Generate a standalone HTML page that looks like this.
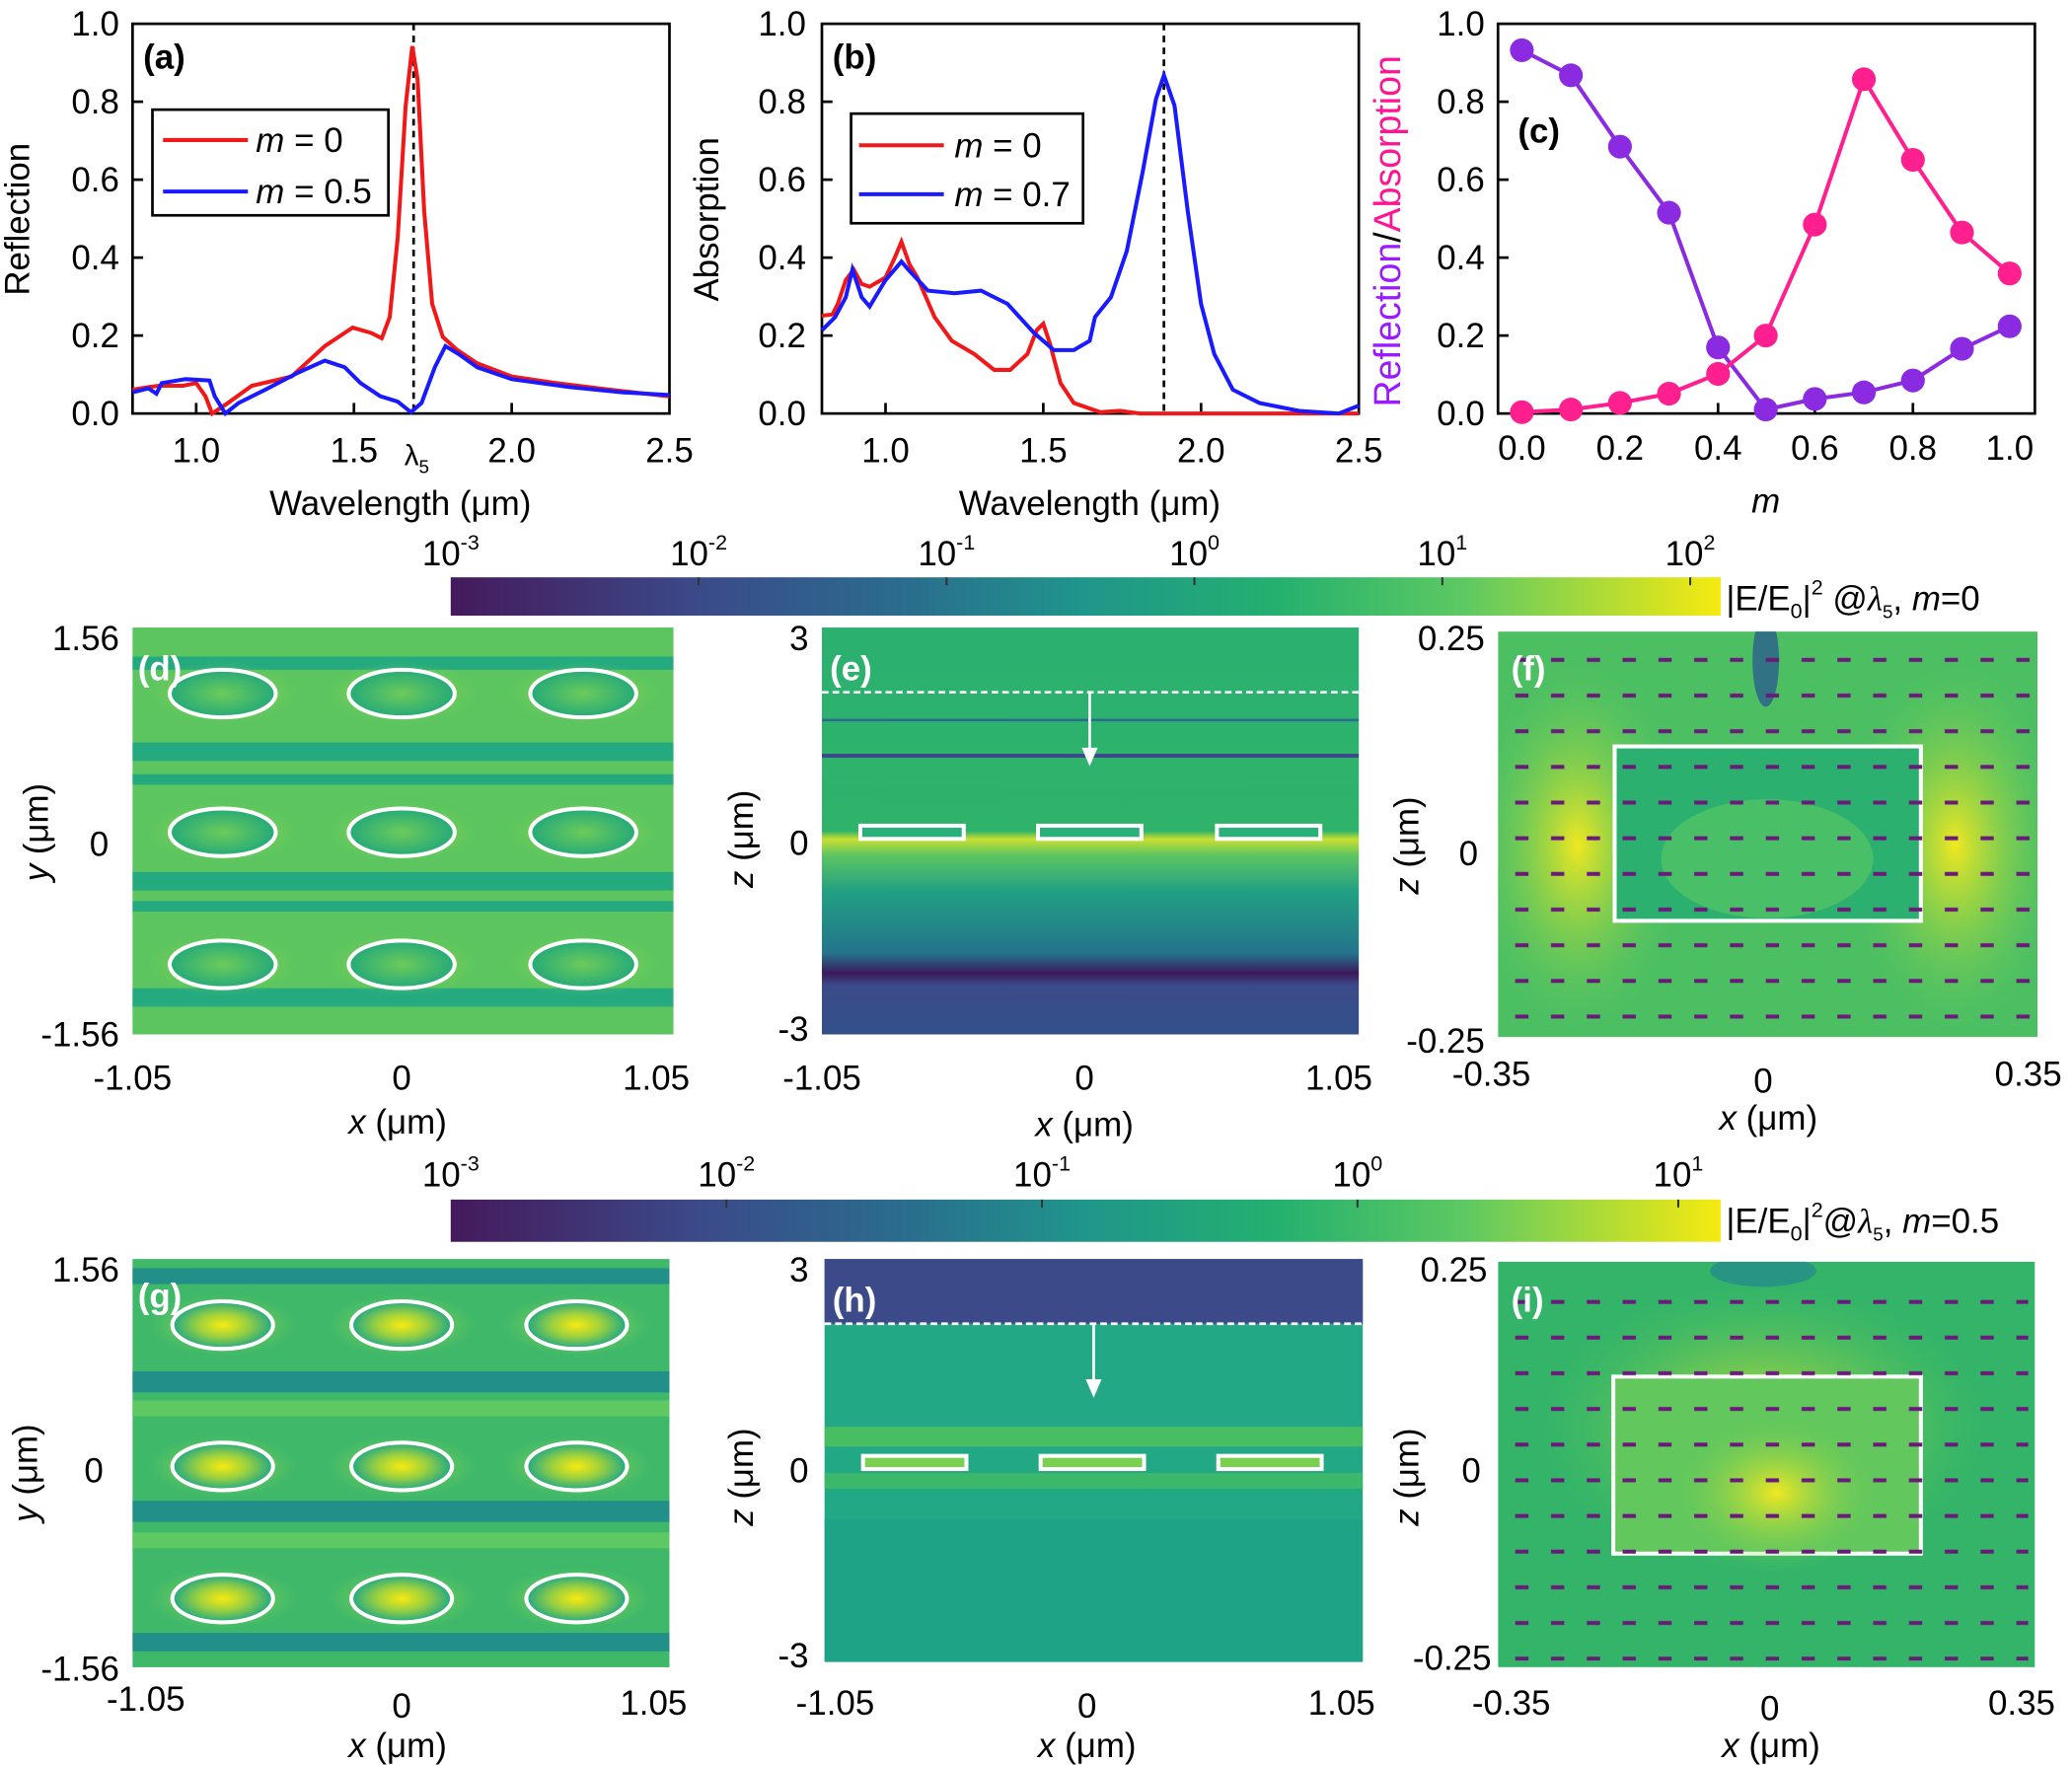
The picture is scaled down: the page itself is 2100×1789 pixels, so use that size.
<!DOCTYPE html>
<html><head><meta charset="utf-8"><style>html,body{margin:0;padding:0;background:#fff}svg{display:block}text{font-family:"Liberation Sans",sans-serif}</style></head><body>
<svg width="2100" height="1789" viewBox="0 0 1563 1336" preserveAspectRatio="none" xmlns="http://www.w3.org/2000/svg">
<defs>
<linearGradient id="vir" x1="0" x2="1" y1="0" y2="0">
<stop offset="0" stop-color="#451a5c"/><stop offset="0.2" stop-color="#3b4b8a"/><stop offset="0.35" stop-color="#2b6b8e"/><stop offset="0.5" stop-color="#1f968b"/><stop offset="0.65" stop-color="#24b06f"/><stop offset="0.8" stop-color="#5ec962"/><stop offset="1" stop-color="#f5ea10"/></linearGradient>
<pattern id="arr" width="27" height="27" patternUnits="userSpaceOnUse"><rect x="9" y="12" width="10" height="3" fill="#6a1b7a"/></pattern>
<linearGradient id="eg" x1="0" y1="0" x2="0" y2="1">
<stop offset="0" stop-color="#2bb070"/><stop offset="0.5" stop-color="#2fb36a"/><stop offset="0.52" stop-color="#c8df30"/><stop offset="0.56" stop-color="#5cc461"/><stop offset="0.65" stop-color="#22a083"/><stop offset="0.8" stop-color="#24748c"/><stop offset="0.85" stop-color="#3b1a5c"/><stop offset="0.88" stop-color="#3b4b8a"/><stop offset="1" stop-color="#33508a"/></linearGradient>
<radialGradient id="yl" cx="0.5" cy="0.5" r="0.5"><stop offset="0" stop-color="#f0e820"/><stop offset="1" stop-color="#5ec962" stop-opacity="0"/></radialGradient>
<radialGradient id="yc" cx="0.5" cy="0.5" r="0.5"><stop offset="0" stop-color="#f7ea10"/><stop offset="0.5" stop-color="#9ad040"/><stop offset="1" stop-color="#20a884"/></radialGradient>
<radialGradient id="gi" cx="0.5" cy="0.5" r="0.5"><stop offset="0" stop-color="#6ccb5a"/><stop offset="1" stop-color="#25aa78"/></radialGradient>
<clipPath id="cf"><rect x="1130" y="478" width="407" height="307"/></clipPath>
<clipPath id="ci"><rect x="1130" y="955" width="405" height="307"/></clipPath>
</defs>
<g font-size="26" fill="#000">
<!-- Panel a -->
<rect x="100" y="18" width="405" height="295" fill="none" stroke="#000" stroke-width="2"/>
<g stroke="#000" stroke-width="2">
<line x1="148" y1="313" x2="148" y2="305"/><line x1="267" y1="313" x2="267" y2="305"/><line x1="386" y1="313" x2="386" y2="305"/>
<line x1="100" y1="254" x2="108" y2="254"/><line x1="100" y1="195" x2="108" y2="195"/><line x1="100" y1="136" x2="108" y2="136"/><line x1="100" y1="77" x2="108" y2="77"/>
</g>
<g text-anchor="end"><text x="90" y="322">0.0</text><text x="90" y="263">0.2</text><text x="90" y="204">0.4</text><text x="90" y="145">0.6</text><text x="90" y="86">0.8</text><text x="90" y="27">1.0</text></g>
<g text-anchor="middle"><text x="148" y="350">1.0</text><text x="267" y="350">1.5</text><text x="386" y="350">2.0</text><text x="505" y="350">2.5</text><text x="302" y="390">Wavelength (μm)</text></g>
<text x="305" y="352" font-size="22" font-family="Liberation Serif">λ<tspan font-size="14" dy="6">5</tspan></text>
<text transform="translate(22,166) rotate(-90)" text-anchor="middle">Reflection</text>
<line x1="312" y1="18" x2="312" y2="313" stroke="#000" stroke-width="2" stroke-dasharray="5,4"/>
<polyline fill="none" stroke="#f01818" stroke-width="3" points="100,295 112,293 120,292 138,292 148,290 155,300 160,313 172,305 190,292 220,285 245,262 266,248 280,252 288,256 294,240 300,180 306,80 311,35 315,60 320,160 326,230 334,255 345,265 360,275 386,285 420,290 460,295 505,300"/>
<polyline fill="none" stroke="#1a1aff" stroke-width="3" points="100,297 112,294 118,298 122,290 140,287 158,288 162,300 170,313 180,305 200,295 225,282 245,273 260,278 272,290 287,300 300,304 310,312 318,305 328,278 336,262 346,268 360,278 386,287 430,293 470,297 505,299"/>
<text x="108" y="52" font-weight="bold">(a)</text>
<rect x="115" y="83" width="178" height="80" fill="#fff" stroke="#000" stroke-width="2"/>
<line x1="123" y1="106" x2="187" y2="106" stroke="#f01818" stroke-width="3"/><line x1="123" y1="145" x2="187" y2="145" stroke="#1a1aff" stroke-width="3"/>
<text x="193" y="115"><tspan font-style="italic">m</tspan> = 0</text><text x="193" y="154"><tspan font-style="italic">m</tspan> = 0.5</text>

<!-- Panel b -->
<rect x="620" y="18" width="405" height="295" fill="none" stroke="#000" stroke-width="2"/>
<g stroke="#000" stroke-width="2">
<line x1="668" y1="313" x2="668" y2="305"/><line x1="787" y1="313" x2="787" y2="305"/><line x1="906" y1="313" x2="906" y2="305"/>
<line x1="620" y1="254" x2="628" y2="254"/><line x1="620" y1="195" x2="628" y2="195"/><line x1="620" y1="136" x2="628" y2="136"/><line x1="620" y1="77" x2="628" y2="77"/>
</g>
<g text-anchor="end"><text x="608" y="322">0.0</text><text x="608" y="263">0.2</text><text x="608" y="204">0.4</text><text x="608" y="145">0.6</text><text x="608" y="86">0.8</text><text x="608" y="27">1.0</text></g>
<g text-anchor="middle"><text x="668" y="350">1.0</text><text x="787" y="350">1.5</text><text x="906" y="350">2.0</text><text x="1025" y="350">2.5</text><text x="822" y="390">Wavelength (μm)</text></g>
<text transform="translate(542,166) rotate(-90)" text-anchor="middle">Absorption</text>
<line x1="878" y1="18" x2="878" y2="313" stroke="#000" stroke-width="2" stroke-dasharray="5,4"/>
<polyline fill="none" stroke="#f01818" stroke-width="3" points="620,239 628,238 632,230 638,212 644,204 650,215 656,217 668,210 675,195 680,183 686,200 692,210 705,240 718,258 735,268 750,280 762,280 775,268 782,250 787,245 792,260 800,290 810,305 830,312 845,311 860,313 1025,313"/>
<polyline fill="none" stroke="#1a1aff" stroke-width="3" points="620,250 630,240 638,225 643,204 650,225 656,232 668,212 680,198 686,205 700,220 720,222 740,220 760,230 780,252 795,265 810,265 822,258 826,240 838,225 850,190 862,130 872,75 878,57 886,80 896,160 906,230 916,268 930,295 950,305 980,311 1010,313 1025,307"/>
<text x="628" y="52" font-weight="bold">(b)</text>
<rect x="642" y="86" width="175" height="83" fill="#fff" stroke="#000" stroke-width="2"/>
<line x1="648" y1="110" x2="712" y2="110" stroke="#f01818" stroke-width="3"/><line x1="648" y1="147" x2="712" y2="147" stroke="#1a1aff" stroke-width="3"/>
<text x="720" y="119"><tspan font-style="italic">m</tspan> = 0</text><text x="720" y="156"><tspan font-style="italic">m</tspan> = 0.7</text>

<!-- Panel c -->
<rect x="1130" y="18" width="405" height="295" fill="none" stroke="#000" stroke-width="2"/>
<g stroke="#000" stroke-width="2">
<line x1="1222" y1="313" x2="1222" y2="305"/><line x1="1296" y1="313" x2="1296" y2="305"/><line x1="1369" y1="313" x2="1369" y2="305"/><line x1="1443" y1="313" x2="1443" y2="305"/>
<line x1="1130" y1="254" x2="1138" y2="254"/><line x1="1130" y1="195" x2="1138" y2="195"/><line x1="1130" y1="136" x2="1138" y2="136"/><line x1="1130" y1="77" x2="1138" y2="77"/>
</g>
<g text-anchor="end"><text x="1120" y="322">0.0</text><text x="1120" y="263">0.2</text><text x="1120" y="204">0.4</text><text x="1120" y="145">0.6</text><text x="1120" y="86">0.8</text><text x="1120" y="27">1.0</text></g>
<g text-anchor="middle"><text x="1148" y="348">0.0</text><text x="1222" y="348">0.2</text><text x="1296" y="348">0.4</text><text x="1369" y="348">0.6</text><text x="1443" y="348">0.8</text><text x="1516" y="348">1.0</text><text x="1332" y="388" font-style="italic">m</text></g>
<text transform="translate(1056,175) rotate(-90)" text-anchor="middle" font-size="28"><tspan fill="#9a1bff">Reflection</tspan><tspan fill="#000">/</tspan><tspan fill="#ff1493">Absorption</tspan></text>
<text x="1145" y="108" font-weight="bold">(c)</text>
<polyline fill="none" stroke="#8a2be2" stroke-width="3" points="1148,38 1185,57 1222,111 1259,161 1296,263 1332,310 1369,302 1406,297 1443,288 1480,264 1516,247"/>
<polyline fill="none" stroke="#ff1f8f" stroke-width="3" points="1148,312 1185,310 1222,305 1259,298 1296,283 1332,254 1369,170 1406,60 1443,121 1480,176 1516,207"/>
<g fill="#8a2be2"><circle cx="1148" cy="38" r="9"/><circle cx="1185" cy="57" r="9"/><circle cx="1222" cy="111" r="9"/><circle cx="1259" cy="161" r="9"/><circle cx="1296" cy="263" r="9"/><circle cx="1332" cy="310" r="9"/><circle cx="1369" cy="302" r="9"/><circle cx="1406" cy="297" r="9"/><circle cx="1443" cy="288" r="9"/><circle cx="1480" cy="264" r="9"/><circle cx="1516" cy="247" r="9"/></g>
<g fill="#ff1f8f"><circle cx="1148" cy="312" r="9"/><circle cx="1185" cy="310" r="9"/><circle cx="1222" cy="305" r="9"/><circle cx="1259" cy="298" r="9"/><circle cx="1296" cy="283" r="9"/><circle cx="1332" cy="254" r="9"/><circle cx="1369" cy="170" r="9"/><circle cx="1406" cy="60" r="9"/><circle cx="1443" cy="121" r="9"/><circle cx="1480" cy="176" r="9"/><circle cx="1516" cy="207" r="9"/></g>

<!-- Colorbar 1 -->
<rect x="340" y="437" width="958" height="29" fill="url(#vir)"/>
<g stroke="#333" stroke-width="1.5"><line x1="527" y1="437" x2="527" y2="443"/><line x1="714" y1="437" x2="714" y2="443"/><line x1="901" y1="437" x2="901" y2="443"/><line x1="1088" y1="437" x2="1088" y2="443"/><line x1="1275" y1="437" x2="1275" y2="443"/></g>
<g text-anchor="middle"><text x="340" y="428">10<tspan font-size="16" dy="-12">-3</tspan></text><text x="527" y="428">10<tspan font-size="16" dy="-12">-2</tspan></text><text x="714" y="428">10<tspan font-size="16" dy="-12">-1</tspan></text><text x="901" y="428">10<tspan font-size="16" dy="-12">0</tspan></text><text x="1088" y="428">10<tspan font-size="16" dy="-12">1</tspan></text><text x="1275" y="428">10<tspan font-size="16" dy="-12">2</tspan></text></g>
<text x="1302" y="462">|E/E<tspan font-size="16" dy="6">0</tspan><tspan dy="-6">|</tspan><tspan font-size="16" dy="-12">2</tspan><tspan dy="12"> @</tspan><tspan font-family="Liberation Serif" font-style="italic">λ</tspan><tspan font-size="14" dy="6">5</tspan><tspan dy="-6">, </tspan><tspan font-style="italic">m</tspan>=0</text>

<!-- Panel d -->
<rect x="100" y="475" width="408" height="308" fill="#5cc55f"/>
<g fill="#20a884" opacity="0.9"><rect x="100" y="497" width="408" height="10"/><rect x="100" y="562" width="408" height="14"/><rect x="100" y="586" width="408" height="8"/><rect x="100" y="660" width="408" height="14"/><rect x="100" y="682" width="408" height="8"/><rect x="100" y="748" width="408" height="14"/></g>
<g fill="url(#yl)"><ellipse cx="168" cy="525" rx="60" ry="24"/><ellipse cx="303" cy="525" rx="60" ry="24"/><ellipse cx="440" cy="525" rx="60" ry="24"/><ellipse cx="168" cy="630" rx="60" ry="24"/><ellipse cx="303" cy="630" rx="60" ry="24"/><ellipse cx="440" cy="630" rx="60" ry="24"/><ellipse cx="168" cy="730" rx="60" ry="24"/><ellipse cx="303" cy="730" rx="60" ry="24"/><ellipse cx="440" cy="730" rx="60" ry="24"/></g>
<g fill="url(#gi)" stroke="#fff" stroke-width="3"><ellipse cx="168" cy="525" rx="40" ry="18"/><ellipse cx="303" cy="525" rx="40" ry="18"/><ellipse cx="440" cy="525" rx="40" ry="18"/><ellipse cx="168" cy="630" rx="40" ry="18"/><ellipse cx="303" cy="630" rx="40" ry="18"/><ellipse cx="440" cy="630" rx="40" ry="18"/><ellipse cx="168" cy="730" rx="40" ry="18"/><ellipse cx="303" cy="730" rx="40" ry="18"/><ellipse cx="440" cy="730" rx="40" ry="18"/></g>
<text x="104" y="515" fill="#fff" font-weight="bold">(d)</text>
<g text-anchor="end"><text x="90" y="492">1.56</text><text x="82" y="648">0</text><text x="90" y="792">-1.56</text></g>
<g text-anchor="middle"><text x="100" y="825">-1.05</text><text x="303" y="825">0</text><text x="495" y="825">1.05</text><text x="300" y="858"><tspan font-style="italic">x</tspan> (μm)</text></g>
<text transform="translate(36,630) rotate(-90)" text-anchor="middle"><tspan font-style="italic">y</tspan> (μm)</text>

<!-- Panel e -->
<rect x="620" y="475" width="405" height="308" fill="url(#eg)"/>
<line x1="620" y1="524" x2="1025" y2="524" stroke="#fff" stroke-width="2" stroke-dasharray="5,3"/>
<line x1="620" y1="545" x2="1025" y2="545" stroke="#2a6e8e" stroke-width="2"/>
<line x1="620" y1="572" x2="1025" y2="572" stroke="#3b4b8a" stroke-width="3"/>
<line x1="822" y1="524" x2="822" y2="575" stroke="#fff" stroke-width="2"/><polygon points="816,566 828,566 822,580" fill="#fff"/>
<g fill="#2ab07a" stroke="#fff" stroke-width="3"><rect x="649" y="625" width="78" height="10"/><rect x="783" y="625" width="78" height="10"/><rect x="918" y="625" width="78" height="10"/></g>
<text x="626" y="515" fill="#fff" font-weight="bold">(e)</text>
<g text-anchor="end"><text x="610" y="492">3</text><text x="610" y="647">0</text><text x="610" y="788">-3</text></g>
<g text-anchor="middle"><text x="620" y="825">-1.05</text><text x="818" y="825">0</text><text x="1010" y="825">1.05</text><text x="818" y="860"><tspan font-style="italic">x</tspan> (μm)</text></g>
<text transform="translate(568,635) rotate(-90)" text-anchor="middle"><tspan font-style="italic">z</tspan> (μm)</text>

<!-- Panel f -->
<g clip-path="url(#cf)">
<rect x="1130" y="478" width="407" height="307" fill="#4cbf62"/>
<ellipse cx="1190" cy="640" rx="80" ry="140" fill="url(#yl)"/><ellipse cx="1475" cy="640" rx="80" ry="140" fill="url(#yl)"/>
<ellipse cx="1332" cy="500" rx="10" ry="35" fill="#2b5f8e" opacity="0.8"/>
<rect x="1218" y="565" width="231" height="132" fill="#2bb070" stroke="#fff" stroke-width="3"/>
<ellipse cx="1333" cy="650" rx="80" ry="45" fill="#5ec962" opacity="0.6"/>
<rect x="1138" y="486" width="395" height="295" fill="url(#arr)"/>
</g>
<text x="1140" y="515" fill="#fff" font-weight="bold">(f)</text>
<g text-anchor="end"><text x="1120" y="492">0.25</text><text x="1115" y="655">0</text><text x="1120" y="797">-0.25</text></g>
<g text-anchor="middle"><text x="1125" y="822">-0.35</text><text x="1330" y="827">0</text><text x="1530" y="822">0.35</text><text x="1334" y="855"><tspan font-style="italic">x</tspan> (μm)</text></g>
<text transform="translate(1070,640) rotate(-90)" text-anchor="middle"><tspan font-style="italic">z</tspan> (μm)</text>

<!-- Colorbar 2 -->
<rect x="340" y="908" width="958" height="32" fill="url(#vir)"/>
<g stroke="#333" stroke-width="1.5"><line x1="548" y1="908" x2="548" y2="914"/><line x1="786" y1="908" x2="786" y2="914"/><line x1="1024" y1="908" x2="1024" y2="914"/><line x1="1266" y1="908" x2="1266" y2="914"/></g>
<g text-anchor="middle"><text x="340" y="898">10<tspan font-size="16" dy="-12">-3</tspan></text><text x="548" y="898">10<tspan font-size="16" dy="-12">-2</tspan></text><text x="786" y="898">10<tspan font-size="16" dy="-12">-1</tspan></text><text x="1024" y="898">10<tspan font-size="16" dy="-12">0</tspan></text><text x="1266" y="898">10<tspan font-size="16" dy="-12">1</tspan></text></g>
<text x="1302" y="933">|E/E<tspan font-size="16" dy="6">0</tspan><tspan dy="-6">|</tspan><tspan font-size="16" dy="-12">2</tspan><tspan dy="12">@</tspan><tspan font-family="Liberation Serif" font-style="italic">λ</tspan><tspan font-size="14" dy="6">5</tspan><tspan dy="-6">, </tspan><tspan font-style="italic">m</tspan>=0.5</text>

<!-- Panel g -->
<rect x="100" y="953" width="405" height="309" fill="#3fb86a"/>
<g fill="#1f8c8c" opacity="0.9"><rect x="100" y="960" width="405" height="12"/><rect x="100" y="1038" width="405" height="16"/><rect x="100" y="1136" width="405" height="16"/><rect x="100" y="1236" width="405" height="14"/></g>
<g fill="#5ec962"><rect x="100" y="1060" width="405" height="12"/><rect x="100" y="1160" width="405" height="12"/></g>
<g fill="url(#yl)"><ellipse cx="168" cy="1003" rx="58" ry="24"/><ellipse cx="303" cy="1003" rx="58" ry="24"/><ellipse cx="435" cy="1003" rx="58" ry="24"/><ellipse cx="168" cy="1110" rx="58" ry="24"/><ellipse cx="303" cy="1110" rx="58" ry="24"/><ellipse cx="435" cy="1110" rx="58" ry="24"/><ellipse cx="168" cy="1210" rx="58" ry="24"/><ellipse cx="303" cy="1210" rx="58" ry="24"/><ellipse cx="435" cy="1210" rx="58" ry="24"/></g>
<g fill="url(#yc)" stroke="#fff" stroke-width="3"><ellipse cx="168" cy="1003" rx="38" ry="18"/><ellipse cx="303" cy="1003" rx="38" ry="18"/><ellipse cx="435" cy="1003" rx="38" ry="18"/><ellipse cx="168" cy="1110" rx="38" ry="18"/><ellipse cx="303" cy="1110" rx="38" ry="18"/><ellipse cx="435" cy="1110" rx="38" ry="18"/><ellipse cx="168" cy="1210" rx="38" ry="18"/><ellipse cx="303" cy="1210" rx="38" ry="18"/><ellipse cx="435" cy="1210" rx="38" ry="18"/></g>
<text x="104" y="990" fill="#fff" font-weight="bold">(g)</text>
<g text-anchor="end"><text x="90" y="970">1.56</text><text x="78" y="1122">0</text><text x="90" y="1272">-1.56</text></g>
<g text-anchor="middle"><text x="110" y="1295">-1.05</text><text x="303" y="1300">0</text><text x="493" y="1298">1.05</text><text x="300" y="1330"><tspan font-style="italic">x</tspan> (μm)</text></g>
<text transform="translate(28,1115) rotate(-90)" text-anchor="middle"><tspan font-style="italic">y</tspan> (μm)</text>

<!-- Panel h -->
<rect x="622" y="953" width="406" height="305" fill="#22a884"/>
<rect x="622" y="953" width="406" height="49" fill="#3d4a8a"/>
<rect x="622" y="1080" width="406" height="15" fill="#48bd62"/>
<rect x="622" y="1115" width="406" height="12" fill="#3cb86a"/>
<rect x="622" y="1150" width="406" height="108" fill="#1fa386"/>
<line x1="622" y1="1002" x2="1028" y2="1002" stroke="#fff" stroke-width="2" stroke-dasharray="5,3"/>
<line x1="825" y1="1002" x2="825" y2="1050" stroke="#fff" stroke-width="2"/><polygon points="819,1044 831,1044 825,1058" fill="#fff"/>
<g fill="#7ad150" stroke="#fff" stroke-width="3"><rect x="651" y="1102" width="78" height="10"/><rect x="785" y="1102" width="78" height="10"/><rect x="919" y="1102" width="78" height="10"/></g>
<text x="628" y="993" fill="#fff" font-weight="bold">(h)</text>
<g text-anchor="end"><text x="610" y="970">3</text><text x="610" y="1122">0</text><text x="610" y="1262">-3</text></g>
<g text-anchor="middle"><text x="630" y="1298">-1.05</text><text x="820" y="1300">0</text><text x="1012" y="1298">1.05</text><text x="820" y="1330"><tspan font-style="italic">x</tspan> (μm)</text></g>
<text transform="translate(568,1118) rotate(-90)" text-anchor="middle"><tspan font-style="italic">z</tspan> (μm)</text>

<!-- Panel i -->
<g clip-path="url(#ci)">
<rect x="1130" y="955" width="405" height="307" fill="#33b468"/>
<ellipse cx="1330" cy="1080" rx="170" ry="110" fill="url(#yl)" opacity="0.8"/>
<ellipse cx="1330" cy="962" rx="40" ry="12" fill="#24868e" opacity="0.7"/>
<rect x="1217" y="1042" width="232" height="134" fill="#62c75c" stroke="#fff" stroke-width="3"/>
<ellipse cx="1340" cy="1130" rx="80" ry="60" fill="url(#yl)"/>
<rect x="1138" y="962" width="392" height="295" fill="url(#arr)"/>
</g>
<text x="1140" y="993" fill="#fff" font-weight="bold">(i)</text>
<g text-anchor="end"><text x="1122" y="970">0.25</text><text x="1117" y="1122">0</text><text x="1125" y="1264">-0.25</text></g>
<g text-anchor="middle"><text x="1140" y="1298">-0.35</text><text x="1335" y="1302">0</text><text x="1525" y="1298">0.35</text><text x="1336" y="1330"><tspan font-style="italic">x</tspan> (μm)</text></g>
<text transform="translate(1070,1118) rotate(-90)" text-anchor="middle"><tspan font-style="italic">z</tspan> (μm)</text>
</g>
</svg>
</body></html>
